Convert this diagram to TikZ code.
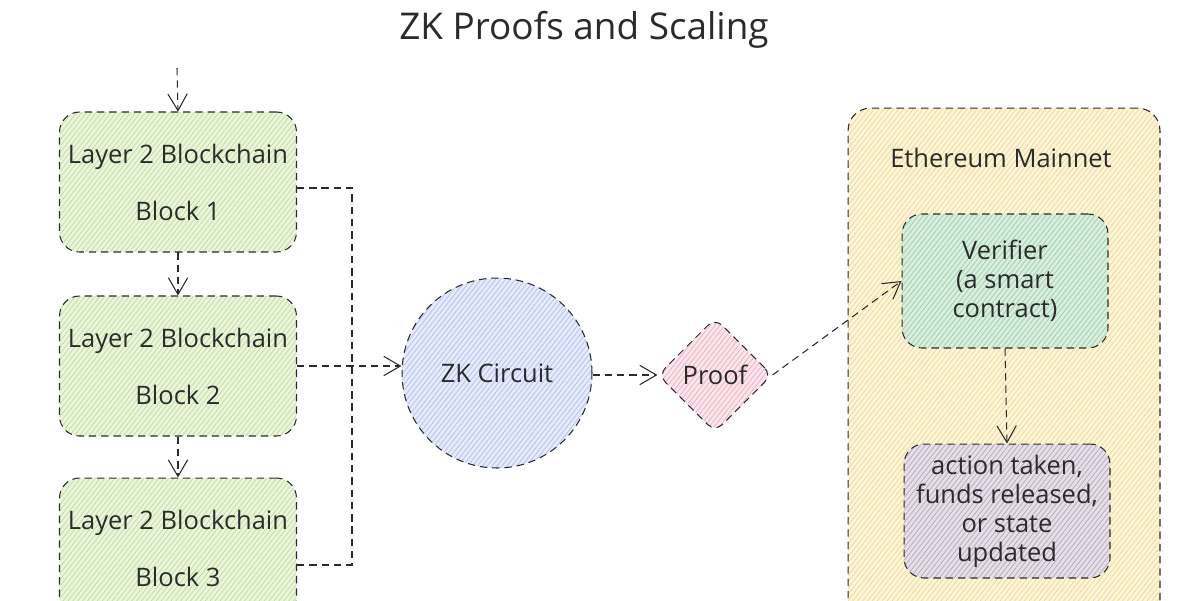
\documentclass[tikz,border=0pt]{standalone}
\usepackage{fontspec}
\setmainfont{Open Sans}
\usetikzlibrary{shapes.geometric, arrows.meta, patterns.meta}

\definecolor{inkgray}{HTML}{2B2B2B}
\definecolor{limefill}{HTML}{EBF5DE}
\definecolor{limeline}{HTML}{C2DF9C}
\definecolor{bluefill}{HTML}{E6EAFB}
\definecolor{blueline}{HTML}{B4C2F0}
\definecolor{pinkfill}{HTML}{FBE6EC}
\definecolor{pinkline}{HTML}{EFB2C5}
\definecolor{sandfill}{HTML}{FCF5DC}
\definecolor{sandline}{HTML}{F0DA92}
\definecolor{tealfill}{HTML}{D9EEDC}
\definecolor{tealline}{HTML}{9ED0B2}
\definecolor{plumfill}{HTML}{E6DFE6}
\definecolor{plumline}{HTML}{B9A8C4}

\begin{document}
\begin{tikzpicture}[x=0.02cm, y=-0.02cm, font=\fontsize{14.5pt}{16.5pt}\selectfont, text=inkgray,
    sketchy/.style={draw=inkgray, line width=0.6pt, dash pattern=on 4.2pt off 2.8pt},
    hatch/.style 2 args={preaction={fill=#1},
        pattern={Lines[angle=52, distance=2.2pt, line width=0.45pt]}, pattern color=#2},
    chainblock/.style={rectangle, rounded corners=0.4cm, sketchy, hatch={limefill}{limeline},
        minimum width=4.74cm, minimum height=2.8cm, align=center},
    zkcircle/.style={circle, sketchy, hatch={bluefill}{blueline}, minimum size=3.8cm},
    proofgem/.style={diamond, rounded corners=0.2cm, sketchy, hatch={pinkfill}{pinkline},
        minimum size=2.28cm, inner sep=0pt},
    mainnet/.style={rectangle, rounded corners=0.45cm, sketchy, hatch={sandfill}{sandline},
        minimum width=6.24cm, minimum height=10.64cm},
    contract/.style={rectangle, rounded corners=0.4cm, sketchy, hatch={tealfill}{tealline},
        minimum width=4.12cm, minimum height=2.68cm, align=center},
    outcome/.style={rectangle, rounded corners=0.4cm, sketchy, hatch={plumfill}{plumline},
        minimum width=4.12cm, minimum height=2.68cm, align=center},
    link/.style={draw=inkgray, line width=0.6pt, dash pattern=on 4.2pt off 2.8pt},
    flow/.style={link, -{Straight Barb[length=9.5pt, width=11pt, line width=0.6pt]}}]

    \fill[white] (0,0) rectangle (1200,600);
    \useasboundingbox (0,0) rectangle (1200,600);
    \clip (0,0) rectangle (1200,600);

    \node[font=\fontsize{21pt}{25pt}\selectfont] (title) at (584,30) {ZK Proofs and Scaling};

    % layer 2 chain
    \node[chainblock] (blk1) at (178,182) {Layer 2 Blockchain\\[16pt]Block 1};
    \node[chainblock] (blk2) at (178,366) {Layer 2 Blockchain\\[16pt]Block 2};
    \node[chainblock] (blk3) at (178,548) {Layer 2 Blockchain\\[16pt]Block 3};
    \coordinate (feed) at (177,68);
    \coordinate (busTop) at (352,188);
    \coordinate (busBot) at (352,565);

    % proving
    \node[zkcircle] (zk) at (497,373) {ZK Circuit};
    \node[proofgem] (proof) at (715,375) {Proof};

    % mainnet side
    \node[mainnet] (eth) at (1004,374) {};
    \node (ethlabel) at (1001,158) {Ethereum Mainnet};
    \node[contract] (verifier) at (1005,281) {Verifier\\(a smart\\contract)};
    \node[outcome] (action) at (1007,511) {action taken,\\funds released,\\or state\\updated};

    \draw[flow] (feed) -- (blk1.north);
    \draw[flow] (blk1.south) -- (blk2.north);
    \draw[flow] (blk2.south) -- (blk3.north);
    \draw[link] (blk1.east |- busTop) -- (busTop) -- (busBot) -- (blk3.east |- busBot);
    \draw[flow] (blk2.east) -- (zk.west |- blk2.east);
    \draw[flow] (zk.east |- proof.west) -- (proof.west);
    \draw[flow] (proof.east) -- (verifier.west);
    \draw[flow] (verifier.south) -- (action.north);
\end{tikzpicture}
\end{document}
